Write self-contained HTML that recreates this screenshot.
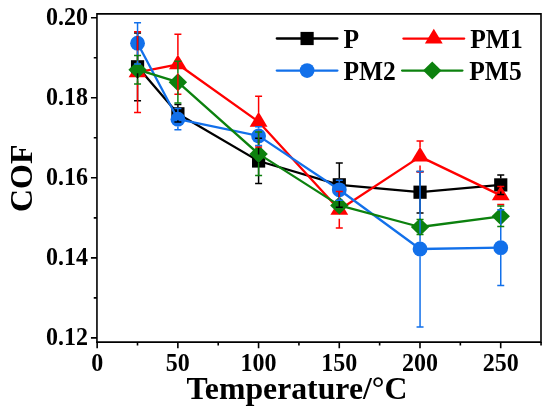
<!DOCTYPE html>
<html><head><meta charset="utf-8"><style>
html,body{margin:0;padding:0;background:#fff;}
svg{display:block;}
text{font-family:"Liberation Serif","Times New Roman",serif;font-weight:bold;fill:#000;}
.tl{font-size:24px;}
.at{font-size:31px;}
.lg{font-size:25.5px;}
</style></head><body>
<svg width="550" height="415" viewBox="0 0 550 415">
<rect width="550" height="415" fill="#fff"/>
<path d="M96.95,343.0V13.9H541.0V342.1H96.05" fill="none" stroke="#000" stroke-width="1.6" stroke-linejoin="miter"/>
<path d="M96.95,17.70H90.95M96.95,97.75H90.95M96.95,177.80H90.95M96.95,257.85H90.95M96.95,337.90H90.95M96.95,57.73H93.75M96.95,137.77H93.75M96.95,217.83H93.75M96.95,297.88H93.75M97.15,342.1V348.3M177.86,342.1V348.3M258.57,342.1V348.3M339.28,342.1V348.3M419.99,342.1V348.3M500.70,342.1V348.3M137.50,342.1V345.5M218.22,342.1V345.5M298.93,342.1V345.5M379.63,342.1V345.5M460.35,342.1V345.5M541.06,342.1V345.5" stroke="#000" stroke-width="1.6" fill="none"/>
<text transform="translate(88.00,25.10) scale(1.0,1.06)" text-anchor="end" class="tl">0.20</text>
<text transform="translate(88.00,105.15) scale(1.0,1.06)" text-anchor="end" class="tl">0.18</text>
<text transform="translate(88.00,185.20) scale(1.0,1.06)" text-anchor="end" class="tl">0.16</text>
<text transform="translate(88.00,265.25) scale(1.0,1.06)" text-anchor="end" class="tl">0.14</text>
<text transform="translate(88.00,345.30) scale(1.0,1.06)" text-anchor="end" class="tl">0.12</text>
<text transform="translate(97.15,370.60) scale(1.0,1.06)" text-anchor="middle" class="tl">0</text>
<text transform="translate(177.86,370.60) scale(1.0,1.06)" text-anchor="middle" class="tl">50</text>
<text transform="translate(258.57,370.60) scale(1.0,1.06)" text-anchor="middle" class="tl">100</text>
<text transform="translate(339.28,370.60) scale(1.0,1.06)" text-anchor="middle" class="tl">150</text>
<text transform="translate(419.99,370.60) scale(1.0,1.06)" text-anchor="middle" class="tl">200</text>
<text transform="translate(500.70,370.60) scale(1.0,1.06)" text-anchor="middle" class="tl">250</text>
<text transform="translate(297.00,398.80) scale(1.025,1.0)" text-anchor="middle" class="at">Temperature/°C</text>
<text transform="translate(32.20,178.30) rotate(-90) scale(1.03,1.0)" text-anchor="middle" class="at">COF</text>
<g>
<polyline points="137.55,66.80 177.90,113.80 258.60,161.00 339.30,184.80 420.05,192.20 500.75,184.90" fill="none" stroke="#000000" stroke-width="2.3" stroke-linejoin="round"/>
<rect x="130.95" y="60.20" width="13.2" height="13.2" fill="#000000"/>
<rect x="171.30" y="107.20" width="13.2" height="13.2" fill="#000000"/>
<rect x="252.00" y="154.40" width="13.2" height="13.2" fill="#000000"/>
<rect x="332.70" y="178.20" width="13.2" height="13.2" fill="#000000"/>
<rect x="413.45" y="185.60" width="13.2" height="13.2" fill="#000000"/>
<rect x="494.15" y="178.30" width="13.2" height="13.2" fill="#000000"/>
<polyline points="137.55,72.30 177.90,64.30 258.60,121.70 339.30,209.75 420.05,156.60 500.75,195.40" fill="none" stroke="#FF0000" stroke-width="2.3" stroke-linejoin="round"/>
<polygon points="137.55,62.43 146.45,77.23 128.65,77.23" fill="#FF0000"/>
<polygon points="177.90,54.43 186.80,69.23 169.00,69.23" fill="#FF0000"/>
<polygon points="258.60,111.83 267.50,126.63 249.70,126.63" fill="#FF0000"/>
<polygon points="339.30,199.88 348.20,214.68 330.40,214.68" fill="#FF0000"/>
<polygon points="420.05,146.73 428.95,161.53 411.15,161.53" fill="#FF0000"/>
<polygon points="500.75,185.53 509.65,200.33 491.85,200.33" fill="#FF0000"/>
<polyline points="137.55,43.20 177.90,119.20 258.60,135.90 339.30,189.80 420.05,249.00 500.75,247.70" fill="none" stroke="#1270EA" stroke-width="2.3" stroke-linejoin="round"/>
<circle cx="137.55" cy="43.20" r="7.4" fill="#1270EA"/>
<circle cx="177.90" cy="119.20" r="7.4" fill="#1270EA"/>
<circle cx="258.60" cy="135.90" r="7.4" fill="#1270EA"/>
<circle cx="339.30" cy="189.80" r="7.4" fill="#1270EA"/>
<circle cx="420.05" cy="249.00" r="7.4" fill="#1270EA"/>
<circle cx="500.75" cy="247.70" r="7.4" fill="#1270EA"/>
<polyline points="137.55,69.70 177.90,82.20 258.60,153.90 339.30,205.40 420.05,227.00 500.75,216.30" fill="none" stroke="#0C810E" stroke-width="2.3" stroke-linejoin="round"/>
<polygon points="137.55,60.70 146.75,69.70 137.55,78.70 128.35,69.70" fill="#0C810E"/>
<polygon points="177.90,73.20 187.10,82.20 177.90,91.20 168.70,82.20" fill="#0C810E"/>
<polygon points="258.60,144.90 267.80,153.90 258.60,162.90 249.40,153.90" fill="#0C810E"/>
<polygon points="339.30,196.40 348.50,205.40 339.30,214.40 330.10,205.40" fill="#0C810E"/>
<polygon points="420.05,218.00 429.25,227.00 420.05,236.00 410.85,227.00" fill="#0C810E"/>
<polygon points="500.75,207.30 509.95,216.30 500.75,225.30 491.55,216.30" fill="#0C810E"/>
<path d="M137.55,33.00V60.30M137.55,73.30V100.70M134.05,33.00H141.05M134.05,100.70H141.05" stroke="#000000" stroke-width="1.5" fill="none"/>
<path d="M177.90,104.60V107.30M177.90,120.30V122.00M174.40,104.60H181.40M174.40,122.00H181.40" stroke="#000000" stroke-width="1.5" fill="none"/>
<path d="M258.60,138.30V154.50M258.60,167.50V183.60M255.10,138.30H262.10M255.10,183.60H262.10" stroke="#000000" stroke-width="1.5" fill="none"/>
<path d="M339.30,162.90V178.30M339.30,191.30V207.20M335.80,162.90H342.80M335.80,207.20H342.80" stroke="#000000" stroke-width="1.5" fill="none"/>
<path d="M420.05,171.50V185.70M420.05,198.70V213.00M416.55,171.50H423.55M416.55,213.00H423.55" stroke="#000000" stroke-width="1.5" fill="none"/>
<path d="M500.75,175.10V178.40M500.75,191.40V194.50M497.25,175.10H504.25M497.25,194.50H504.25" stroke="#000000" stroke-width="1.5" fill="none"/>
<path d="M137.55,31.80V63.30M137.55,81.30V112.60M134.05,31.80H141.05M134.05,112.60H141.05" stroke="#FF0000" stroke-width="1.5" fill="none"/>
<path d="M177.90,34.30V55.30M177.90,73.30V94.30M174.40,34.30H181.40M174.40,94.30H181.40" stroke="#FF0000" stroke-width="1.5" fill="none"/>
<path d="M258.60,96.30V112.70M258.60,130.70V147.00M255.10,96.30H262.10M255.10,147.00H262.10" stroke="#FF0000" stroke-width="1.5" fill="none"/>
<path d="M339.30,191.60V200.75M339.30,218.75V227.90M335.80,191.60H342.80M335.80,227.90H342.80" stroke="#FF0000" stroke-width="1.5" fill="none"/>
<path d="M420.05,141.10V147.60M420.05,165.60V172.10M416.55,141.10H423.55M416.55,172.10H423.55" stroke="#FF0000" stroke-width="1.5" fill="none"/>
<path d="M497.25,186.40H504.25M497.25,204.40H504.25" stroke="#FF0000" stroke-width="1.5" fill="none"/>
<path d="M137.55,22.70V35.90M137.55,50.50V64.00M134.05,22.70H141.05M134.05,64.00H141.05" stroke="#1270EA" stroke-width="1.5" fill="none"/>
<path d="M177.90,108.60V111.90M177.90,126.50V129.80M174.40,108.60H181.40M174.40,129.80H181.40" stroke="#1270EA" stroke-width="1.5" fill="none"/>
<path d="M258.60,126.70V128.60M258.60,143.20V145.50M255.10,126.70H262.10M255.10,145.50H262.10" stroke="#1270EA" stroke-width="1.5" fill="none"/>
<path d="M339.30,180.30V182.50M339.30,197.10V200.20M335.80,180.30H342.80M335.80,200.20H342.80" stroke="#1270EA" stroke-width="1.5" fill="none"/>
<path d="M420.05,171.60V241.70M420.05,256.30V327.00M416.55,171.60H423.55M416.55,327.00H423.55" stroke="#1270EA" stroke-width="1.5" fill="none"/>
<path d="M500.75,209.70V240.40M500.75,255.00V285.60M497.25,209.70H504.25M497.25,285.60H504.25" stroke="#1270EA" stroke-width="1.5" fill="none"/>
<path d="M137.55,55.40V60.70M137.55,78.70V84.00M134.05,55.40H141.05M134.05,84.00H141.05" stroke="#0C810E" stroke-width="1.5" fill="none"/>
<path d="M177.90,61.30V73.20M177.90,91.20V103.00M174.40,61.30H181.40M174.40,103.00H181.40" stroke="#0C810E" stroke-width="1.5" fill="none"/>
<path d="M258.60,132.00V144.90M258.60,162.90V175.60M255.10,132.00H262.10M255.10,175.60H262.10" stroke="#0C810E" stroke-width="1.5" fill="none"/>
<path d="M416.55,219.50H423.55M416.55,234.50H423.55" stroke="#0C810E" stroke-width="1.5" fill="none"/>
<path d="M500.75,206.10V207.30M500.75,225.30V226.60M497.25,206.10H504.25M497.25,226.60H504.25" stroke="#0C810E" stroke-width="1.5" fill="none"/>
</g>
<path d="M276.8,38.5H337.4" stroke="#000000" stroke-width="2.3" stroke-linecap="round"/>
<rect x="300.50" y="31.90" width="13.2" height="13.2" fill="#000000"/>
<text transform="translate(343.50,47.70) scale(1.0,1.04)" class="lg">P</text>
<path d="M403.4,38.6H464.2" stroke="#FF0000" stroke-width="2.3" stroke-linecap="round"/>
<polygon points="433.80,28.73 442.70,43.53 424.90,43.53" fill="#FF0000"/>
<text transform="translate(470.30,47.80) scale(1.0,1.04)" class="lg">PM1</text>
<path d="M276.8,70.6H337.4" stroke="#1270EA" stroke-width="2.3" stroke-linecap="round"/>
<circle cx="307.10" cy="70.60" r="7.4" fill="#1270EA"/>
<text transform="translate(343.50,79.80) scale(1.0,1.04)" class="lg">PM2</text>
<path d="M402.1,70.6H462.4" stroke="#0C810E" stroke-width="2.3" stroke-linecap="round"/>
<polygon points="432.25,61.60 441.45,70.60 432.25,79.60 423.05,70.60" fill="#0C810E"/>
<text transform="translate(469.30,79.80) scale(1.0,1.04)" class="lg">PM5</text>
</svg>
</body></html>
